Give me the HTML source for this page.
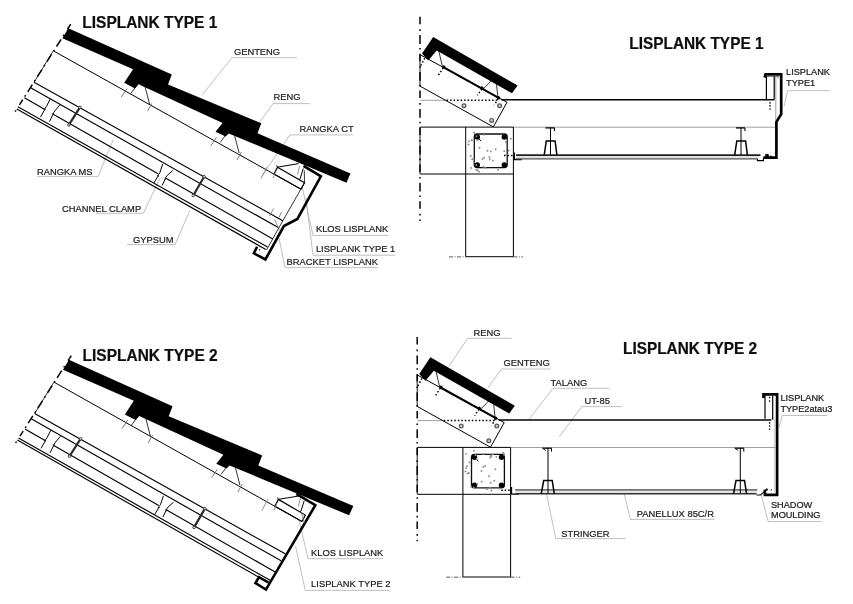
<!DOCTYPE html>
<html><head><meta charset="utf-8"><title>Lisplank detail</title>
<style>
html,body{margin:0;padding:0;background:#fff;}
svg{display:block;font-family:"Liberation Sans",sans-serif;}
</style></head><body>
<svg width="853" height="604" viewBox="0 0 853 604">
<defs><filter id="soft" x="0" y="0" width="100%" height="100%" filterUnits="userSpaceOnUse"><feGaussianBlur stdDeviation="0.33"/></filter></defs>
<rect width="853" height="604" fill="#fff"/>
<g filter="url(#soft)">
<polyline points="297.00,57.70 232.00,57.70 202.00,95.00" fill="none" stroke="#b0b0b0" stroke-width="0.8" />
<polyline points="310.00,103.60 273.00,103.60 259.50,122.50" fill="none" stroke="#b0b0b0" stroke-width="0.8" />
<polyline points="353.00,134.90 290.00,134.90 262.00,176.00" fill="none" stroke="#b0b0b0" stroke-width="0.8" />
<polyline points="37.00,176.60 98.00,176.60 113.00,140.00" fill="none" stroke="#b0b0b0" stroke-width="0.8" />
<polyline points="96.00,213.30 143.40,213.30 160.00,178.00" fill="none" stroke="#b0b0b0" stroke-width="0.8" />
<polyline points="127.00,244.60 175.00,244.60 190.00,210.00" fill="none" stroke="#b0b0b0" stroke-width="0.8" />
<polyline points="388.00,235.40 313.00,235.40 302.00,186.00" fill="none" stroke="#b0b0b0" stroke-width="0.8" />
<polyline points="395.00,255.20 313.00,255.20 306.00,198.00" fill="none" stroke="#b0b0b0" stroke-width="0.8" />
<polyline points="378.00,267.60 285.00,267.60 279.00,238.00" fill="none" stroke="#b0b0b0" stroke-width="0.8" />
<polyline points="383.00,558.70 308.00,558.70 299.00,520.00" fill="none" stroke="#b0b0b0" stroke-width="0.8" />
<polyline points="390.00,590.40 305.30,590.40 295.50,546.00" fill="none" stroke="#b0b0b0" stroke-width="0.8" />
<polyline points="511.60,338.30 467.70,338.30 448.90,366.40" fill="none" stroke="#b0b0b0" stroke-width="0.8" />
<polyline points="550.50,369.00 501.60,369.00 487.80,387.80" fill="none" stroke="#b0b0b0" stroke-width="0.8" />
<polyline points="609.50,388.30 553.00,388.30 529.20,419.10" fill="none" stroke="#b0b0b0" stroke-width="0.8" />
<polyline points="622.00,406.60 581.90,406.60 559.30,436.70" fill="none" stroke="#b0b0b0" stroke-width="0.8" />
<polyline points="714.00,519.40 630.40,519.40 623.80,492.00" fill="none" stroke="#b0b0b0" stroke-width="0.8" />
<polyline points="626.00,538.60 555.80,538.60 546.40,493.50" fill="none" stroke="#b0b0b0" stroke-width="0.8" />
<polyline points="821.90,521.60 768.20,521.60 761.40,495.60" fill="none" stroke="#b0b0b0" stroke-width="0.8" />
<polyline points="827.50,415.50 782.20,415.50 779.00,427.80" fill="none" stroke="#b0b0b0" stroke-width="0.8" />
<polyline points="829.70,90.70 787.50,90.70 784.00,106.40" fill="none" stroke="#b0b0b0" stroke-width="0.8" />
<polygon points="68.30,28.30 171.80,74.50 168.00,84.50 261.30,123.30 257.50,133.30 350.40,173.50 346.50,182.80 228.80,133.40 225.60,136.40 215.50,131.80 222.60,122.90 138.50,84.30 135.00,88.50 124.20,82.80 133.10,69.20 62.40,38.30" fill="#000" stroke="none" stroke-width="1" />
<line x1="70.70" y1="24.20" x2="13.40" y2="114.40" stroke="#000" stroke-width="1.5" stroke-dasharray="6 6.5 1.6 3.8 8.5 4 1.6 3.8 8.5 4 1.6 3.8 8.5 4 1.6 3.8 8.5 4 1.6 3.8"/>
<line x1="53.30" y1="50.80" x2="34.05" y2="82.30" stroke="#000" stroke-width="0.8" />
<line x1="53.30" y1="50.80" x2="301.00" y2="189.20" stroke="#000" stroke-width="1.0" />
<line x1="34.05" y1="82.30" x2="282.80" y2="220.80" stroke="#000" stroke-width="1.15" />
<line x1="30.20" y1="87.40" x2="278.70" y2="227.80" stroke="#000" stroke-width="1.15" />
<line x1="17.90" y1="106.80" x2="267.50" y2="247.10" stroke="#000" stroke-width="1.15" />
<line x1="16.80" y1="108.90" x2="265.80" y2="249.50" stroke="#000" stroke-width="1.15" />
<line x1="24.40" y1="97.80" x2="45.30" y2="109.67" stroke="#000" stroke-width="1.15" />
<line x1="53.20" y1="114.16" x2="158.00" y2="173.69" stroke="#000" stroke-width="1.15" />
<line x1="165.90" y1="178.18" x2="272.80" y2="238.90" stroke="#000" stroke-width="1.15" />
<line x1="138.30" y1="83.30" x2="130.80" y2="93.50" stroke="#000" stroke-width="0.8" />
<line x1="144.90" y1="86.10" x2="149.60" y2="104.20" stroke="#000" stroke-width="0.8" />
<line x1="121.30" y1="97.00" x2="127.00" y2="88.60" stroke="#777" stroke-width="1" />
<line x1="147.50" y1="111.20" x2="151.80" y2="103.40" stroke="#777" stroke-width="1" />
<line x1="227.80" y1="132.10" x2="220.30" y2="142.30" stroke="#000" stroke-width="0.8" />
<line x1="234.40" y1="134.90" x2="239.10" y2="153.00" stroke="#000" stroke-width="0.8" />
<line x1="210.80" y1="145.80" x2="216.50" y2="137.40" stroke="#777" stroke-width="1" />
<line x1="237.00" y1="160.00" x2="241.30" y2="152.20" stroke="#777" stroke-width="1" />
<polyline points="50.20,99.00 46.60,106.10 45.20,108.10 44.60,109.70 40.50,117.10" fill="none" stroke="#000" stroke-width="1.0" />
<circle cx="44.70" cy="109.30" r="0.9" fill="#222" stroke="none" stroke-width="1"/>
<polyline points="59.90,104.90 55.00,110.70 53.60,112.70 53.00,114.30 49.50,121.60" fill="none" stroke="#000" stroke-width="1.0" />
<circle cx="53.10" cy="113.90" r="0.9" fill="#222" stroke="none" stroke-width="1"/>
<polyline points="162.70,164.10 159.80,172.80 158.40,174.80 157.80,176.40 153.90,182.90" fill="none" stroke="#000" stroke-width="1.0" />
<circle cx="157.90" cy="176.00" r="0.9" fill="#222" stroke="none" stroke-width="1"/>
<polyline points="172.80,170.40 167.30,175.30 165.90,177.30 165.30,178.90 162.20,185.40" fill="none" stroke="#000" stroke-width="1.0" />
<circle cx="165.40" cy="178.50" r="0.9" fill="#222" stroke="none" stroke-width="1"/>
<line x1="79.90" y1="107.40" x2="68.90" y2="124.90" stroke="#2a2a2a" stroke-width="2.2" />
<circle cx="79.90" cy="107.40" r="1.3" fill="#ddd" stroke="#222" stroke-width="0.8"/>
<circle cx="68.90" cy="124.90" r="1.3" fill="#ddd" stroke="#222" stroke-width="0.8"/>
<line x1="204.10" y1="176.70" x2="193.30" y2="195.50" stroke="#2a2a2a" stroke-width="2.2" />
<circle cx="204.10" cy="176.70" r="1.3" fill="#ddd" stroke="#222" stroke-width="0.8"/>
<circle cx="193.30" cy="195.50" r="1.3" fill="#ddd" stroke="#222" stroke-width="0.8"/>
<polygon points="277.50,167.20 304.50,182.80 301.00,189.20 274.00,174.00" fill="none" stroke="#000" stroke-width="1.2" />
<line x1="277.50" y1="167.20" x2="298.60" y2="163.60" stroke="#000" stroke-width="1.0" />
<line x1="303.30" y1="168.50" x2="299.80" y2="179.50" stroke="#000" stroke-width="1.0" />
<line x1="277.50" y1="167.20" x2="276.60" y2="165.40" stroke="#000" stroke-width="1.0" />
<line x1="299.50" y1="166.00" x2="297.50" y2="174.50" stroke="#777" stroke-width="0.8" />
<line x1="261.00" y1="178.50" x2="267.00" y2="167.00" stroke="#777" stroke-width="0.8" />
<line x1="273.00" y1="178.00" x2="276.00" y2="171.00" stroke="#777" stroke-width="0.8" />
<polyline points="303.50,165.80 320.90,176.30 297.40,219.00 283.90,226.00 265.40,259.50 253.90,253.30 257.10,246.70" fill="none" stroke="#000" stroke-width="2.6" stroke-linejoin="miter"/>
<polyline points="304.30,170.50 304.50,182.80 282.80,220.80 266.50,250.00" fill="none" stroke="#000" stroke-width="0.8" />
<circle cx="259.60" cy="249.80" r="0.7" fill="#000" stroke="none" stroke-width="1"/>
<line x1="269.50" y1="216.00" x2="273.50" y2="208.50" stroke="#777" stroke-width="0.9" />
<line x1="279.00" y1="217.50" x2="281.50" y2="212.00" stroke="#777" stroke-width="0.9" />
<line x1="274.50" y1="219.50" x2="279.50" y2="230.00" stroke="#777" stroke-width="0.8" />
<polygon points="68.92,359.66 172.54,406.27 168.74,416.26 262.15,455.43 258.34,465.41 353.36,506.09 349.05,515.28 229.61,465.40 226.41,468.39 216.29,463.75 223.40,454.87 139.20,415.94 135.70,420.12 124.88,414.38 133.79,400.82 63.01,369.63" fill="#000" stroke="none" stroke-width="1" />
<line x1="71.32" y1="355.57" x2="13.95" y2="445.54" stroke="#000" stroke-width="1.5" stroke-dasharray="6 6.5 1.6 3.8 8.5 4 1.6 3.8 8.5 4 1.6 3.8 8.5 4 1.6 3.8 8.5 4 1.6 3.8"/>
<line x1="53.90" y1="382.10" x2="34.63" y2="413.52" stroke="#000" stroke-width="0.8" />
<line x1="53.90" y1="382.10" x2="301.90" y2="521.49" stroke="#000" stroke-width="1.0" />
<line x1="34.63" y1="413.52" x2="285.60" y2="554.10" stroke="#000" stroke-width="1.15" />
<line x1="30.77" y1="418.60" x2="281.49" y2="561.08" stroke="#000" stroke-width="1.15" />
<line x1="18.46" y1="437.96" x2="270.10" y2="580.24" stroke="#000" stroke-width="1.15" />
<line x1="17.36" y1="440.05" x2="268.40" y2="582.63" stroke="#000" stroke-width="1.15" />
<line x1="24.96" y1="428.98" x2="45.89" y2="440.94" stroke="#000" stroke-width="1.15" />
<line x1="53.80" y1="445.45" x2="158.72" y2="505.40" stroke="#000" stroke-width="1.15" />
<line x1="166.63" y1="509.92" x2="275.58" y2="572.16" stroke="#000" stroke-width="1.15" />
<line x1="139.00" y1="414.94" x2="131.49" y2="425.11" stroke="#000" stroke-width="0.8" />
<line x1="145.61" y1="417.76" x2="150.31" y2="435.88" stroke="#000" stroke-width="0.8" />
<line x1="121.98" y1="428.57" x2="127.69" y2="420.19" stroke="#777" stroke-width="1" />
<line x1="148.21" y1="442.87" x2="152.52" y2="435.09" stroke="#777" stroke-width="1" />
<line x1="228.61" y1="464.10" x2="221.10" y2="474.27" stroke="#000" stroke-width="0.8" />
<line x1="235.22" y1="466.92" x2="239.92" y2="485.04" stroke="#000" stroke-width="0.8" />
<line x1="211.59" y1="477.73" x2="217.29" y2="469.35" stroke="#777" stroke-width="1" />
<line x1="237.82" y1="492.03" x2="242.12" y2="484.25" stroke="#777" stroke-width="1" />
<polyline points="50.80,430.28 47.19,437.37 45.79,439.36 45.19,440.96 41.08,448.35" fill="none" stroke="#000" stroke-width="1.0" />
<circle cx="45.29" cy="440.56" r="0.9" fill="#222" stroke="none" stroke-width="1"/>
<polyline points="60.51,436.22 55.60,442.00 54.20,444.00 53.60,445.60 50.09,452.88" fill="none" stroke="#000" stroke-width="1.0" />
<circle cx="53.70" cy="445.20" r="0.9" fill="#222" stroke="none" stroke-width="1"/>
<polyline points="163.43,495.83 160.53,504.52 159.13,506.52 158.52,508.12 154.62,514.60" fill="none" stroke="#000" stroke-width="1.0" />
<circle cx="158.62" cy="507.72" r="0.9" fill="#222" stroke="none" stroke-width="1"/>
<polyline points="173.54,502.18 168.04,507.05 166.63,509.05 166.03,510.65 162.93,517.13" fill="none" stroke="#000" stroke-width="1.0" />
<circle cx="166.13" cy="510.25" r="0.9" fill="#222" stroke="none" stroke-width="1"/>
<line x1="80.53" y1="438.80" x2="69.52" y2="456.26" stroke="#2a2a2a" stroke-width="2.2" />
<circle cx="80.53" cy="438.80" r="1.3" fill="#ddd" stroke="#222" stroke-width="0.8"/>
<circle cx="69.52" cy="456.26" r="1.3" fill="#ddd" stroke="#222" stroke-width="0.8"/>
<line x1="204.88" y1="508.60" x2="194.07" y2="527.36" stroke="#2a2a2a" stroke-width="2.2" />
<circle cx="204.88" cy="508.60" r="1.3" fill="#ddd" stroke="#222" stroke-width="0.8"/>
<circle cx="194.07" cy="527.36" r="1.3" fill="#ddd" stroke="#222" stroke-width="0.8"/>
<polygon points="278.37,499.39 305.40,515.10 301.90,521.49 274.86,506.18" fill="none" stroke="#000" stroke-width="1.2" />
<line x1="278.37" y1="499.39" x2="299.49" y2="495.88" stroke="#000" stroke-width="1.0" />
<line x1="304.20" y1="500.80" x2="300.69" y2="511.78" stroke="#000" stroke-width="1.0" />
<line x1="278.37" y1="499.39" x2="277.47" y2="497.59" stroke="#000" stroke-width="1.0" />
<line x1="300.39" y1="498.28" x2="298.39" y2="506.77" stroke="#777" stroke-width="0.8" />
<line x1="261.85" y1="510.63" x2="267.86" y2="499.15" stroke="#777" stroke-width="0.8" />
<line x1="273.86" y1="510.18" x2="276.87" y2="503.19" stroke="#777" stroke-width="0.8" />
<polyline points="296.29,493.87 315.31,505.24 265.95,589.54 255.44,583.10 258.94,577.22 268.36,582.35" fill="none" stroke="#000" stroke-width="2.6" stroke-linejoin="miter"/>
<line x1="301.40" y1="512.29" x2="304.40" y2="523.30" stroke="#777" stroke-width="0.8" />
<line x1="420.00" y1="16.80" x2="420.00" y2="221.00" stroke="#000" stroke-width="1.5" stroke-dasharray="7.5 5 1.6 4.2 8.8 4 1.6 4.2"/>
<line x1="420.00" y1="54.50" x2="420.00" y2="86.20" stroke="#000" stroke-width="0.9" />
<line x1="420.00" y1="127.10" x2="420.00" y2="174.00" stroke="#000" stroke-width="0.9" />
<line x1="420.20" y1="100.30" x2="446.60" y2="100.30" stroke="#888" stroke-width="0.8" />
<line x1="446.60" y1="100.30" x2="497.50" y2="100.30" stroke="#000" stroke-width="1.5" stroke-dasharray="1.5 2.0"/>
<polyline points="419.80,54.50 507.00,102.30 493.30,126.90 420.20,86.20" fill="none" stroke="#000" stroke-width="1" />
<line x1="443.80" y1="67.40" x2="500.00" y2="98.60" stroke="#000" stroke-width="2.2" />
<polygon points="433.20,37.00 517.60,85.50 512.00,93.30 436.70,50.40 428.30,60.50 422.00,53.60" fill="#000" stroke="none" stroke-width="1" />
<line x1="438.80" y1="51.00" x2="442.40" y2="66.50" stroke="#000" stroke-width="0.8" />
<line x1="491.60" y1="80.60" x2="483.20" y2="89.00" stroke="#000" stroke-width="0.8" />
<line x1="496.50" y1="84.10" x2="497.90" y2="97.50" stroke="#000" stroke-width="0.8" />
<line x1="424.80" y1="58.10" x2="420.60" y2="65.80" stroke="#000" stroke-width="1.5" stroke-dasharray="1.5 2.0"/>
<line x1="443.10" y1="67.90" x2="438.10" y2="75.60" stroke="#000" stroke-width="1.5" stroke-dasharray="1.5 2.0"/>
<line x1="481.80" y1="89.00" x2="477.50" y2="95.30" stroke="#000" stroke-width="1.5" stroke-dasharray="1.5 2.0"/>
<line x1="498.00" y1="98.90" x2="494.40" y2="105.20" stroke="#000" stroke-width="1.5" stroke-dasharray="1.5 2.0"/>
<circle cx="443.80" cy="66.80" r="1.6" fill="#000" stroke="none" stroke-width="1"/>
<circle cx="482.00" cy="87.90" r="1.6" fill="#000" stroke="none" stroke-width="1"/>
<circle cx="498.40" cy="97.70" r="1.6" fill="#000" stroke="none" stroke-width="1"/>
<circle cx="464.00" cy="105.80" r="1.9" fill="#c4c4c4" stroke="#555" stroke-width="1.2"/>
<circle cx="499.60" cy="105.80" r="1.9" fill="#c4c4c4" stroke="#555" stroke-width="1.2"/>
<circle cx="491.60" cy="120.40" r="1.9" fill="#c4c4c4" stroke="#555" stroke-width="1.2"/>
<line x1="501.40" y1="99.70" x2="774.20" y2="99.70" stroke="#000" stroke-width="1.45" />
<line x1="513.40" y1="127.20" x2="775.20" y2="127.20" stroke="#888" stroke-width="0.8" />
<polyline points="420.20,127.10 513.40,127.10 513.40,256.70 465.70,256.70 465.70,127.10" fill="none" stroke="#000" stroke-width="1" />
<polyline points="420.20,174.00 513.40,174.00" fill="none" stroke="#000" stroke-width="1" />
<line x1="449.00" y1="256.90" x2="465.70" y2="256.90" stroke="#444" stroke-width="0.9" stroke-dasharray="4 1.5 1 1.5"/>
<line x1="513.40" y1="256.90" x2="523.00" y2="256.90" stroke="#444" stroke-width="0.9" stroke-dasharray="4 1.5 1 1.5"/>
<rect x="474.30" y="134.00" width="32.90" height="33.60" rx="2.8" fill="none" stroke="#111" stroke-width="1.3"/>
<circle cx="477.30" cy="137.00" r="2.7" fill="#000" stroke="none" stroke-width="1"/>
<circle cx="504.30" cy="137.00" r="2.7" fill="#000" stroke="none" stroke-width="1"/>
<circle cx="477.30" cy="165.00" r="2.7" fill="#000" stroke="none" stroke-width="1"/>
<circle cx="504.30" cy="165.00" r="2.7" fill="#000" stroke="none" stroke-width="1"/>
<line x1="477.30" y1="137.00" x2="481.00" y2="141.00" stroke="#000" stroke-width="1" />
<circle cx="477.75" cy="170.42" r="0.95" fill="#8c8c8c" stroke="none" stroke-width="1"/>
<circle cx="473.43" cy="159.60" r="0.95" fill="#8c8c8c" stroke="none" stroke-width="1"/>
<circle cx="471.66" cy="140.39" r="0.95" fill="#8c8c8c" stroke="none" stroke-width="1"/>
<circle cx="510.96" cy="138.79" r="0.95" fill="#8c8c8c" stroke="none" stroke-width="1"/>
<circle cx="495.60" cy="149.28" r="0.95" fill="#8c8c8c" stroke="none" stroke-width="1"/>
<circle cx="487.48" cy="150.79" r="0.95" fill="#8c8c8c" stroke="none" stroke-width="1"/>
<circle cx="476.27" cy="164.88" r="0.95" fill="#8c8c8c" stroke="none" stroke-width="1"/>
<circle cx="471.85" cy="139.84" r="0.95" fill="#8c8c8c" stroke="none" stroke-width="1"/>
<circle cx="468.86" cy="141.20" r="0.95" fill="#8c8c8c" stroke="none" stroke-width="1"/>
<circle cx="485.53" cy="167.89" r="0.95" fill="#8c8c8c" stroke="none" stroke-width="1"/>
<circle cx="484.30" cy="134.78" r="0.95" fill="#8c8c8c" stroke="none" stroke-width="1"/>
<circle cx="479.11" cy="171.65" r="0.95" fill="#8c8c8c" stroke="none" stroke-width="1"/>
<circle cx="470.71" cy="156.05" r="0.95" fill="#8c8c8c" stroke="none" stroke-width="1"/>
<circle cx="484.22" cy="157.76" r="0.95" fill="#8c8c8c" stroke="none" stroke-width="1"/>
<circle cx="482.55" cy="159.03" r="0.95" fill="#8c8c8c" stroke="none" stroke-width="1"/>
<circle cx="489.40" cy="157.29" r="0.95" fill="#8c8c8c" stroke="none" stroke-width="1"/>
<circle cx="506.76" cy="154.42" r="0.95" fill="#8c8c8c" stroke="none" stroke-width="1"/>
<circle cx="474.11" cy="132.70" r="0.95" fill="#8c8c8c" stroke="none" stroke-width="1"/>
<circle cx="508.68" cy="150.52" r="0.95" fill="#8c8c8c" stroke="none" stroke-width="1"/>
<circle cx="476.34" cy="169.73" r="0.95" fill="#8c8c8c" stroke="none" stroke-width="1"/>
<circle cx="492.90" cy="160.62" r="0.95" fill="#8c8c8c" stroke="none" stroke-width="1"/>
<circle cx="505.88" cy="142.00" r="0.95" fill="#8c8c8c" stroke="none" stroke-width="1"/>
<circle cx="483.34" cy="166.88" r="0.95" fill="#8c8c8c" stroke="none" stroke-width="1"/>
<circle cx="473.80" cy="162.10" r="0.95" fill="#8c8c8c" stroke="none" stroke-width="1"/>
<circle cx="472.20" cy="158.99" r="0.95" fill="#8c8c8c" stroke="none" stroke-width="1"/>
<circle cx="498.19" cy="169.90" r="0.95" fill="#8c8c8c" stroke="none" stroke-width="1"/>
<circle cx="504.27" cy="151.15" r="0.95" fill="#8c8c8c" stroke="none" stroke-width="1"/>
<circle cx="476.50" cy="136.31" r="0.95" fill="#8c8c8c" stroke="none" stroke-width="1"/>
<circle cx="490.73" cy="151.41" r="0.95" fill="#8c8c8c" stroke="none" stroke-width="1"/>
<circle cx="471.07" cy="167.94" r="0.95" fill="#8c8c8c" stroke="none" stroke-width="1"/>
<circle cx="489.82" cy="159.45" r="0.95" fill="#8c8c8c" stroke="none" stroke-width="1"/>
<circle cx="477.46" cy="140.24" r="0.95" fill="#8c8c8c" stroke="none" stroke-width="1"/>
<circle cx="468.51" cy="144.42" r="0.95" fill="#8c8c8c" stroke="none" stroke-width="1"/>
<circle cx="479.47" cy="147.78" r="0.95" fill="#8c8c8c" stroke="none" stroke-width="1"/>
<line x1="504.00" y1="155.60" x2="512.50" y2="155.60" stroke="#000" stroke-width="1.5" stroke-dasharray="1.5 2.0"/>
<polyline points="514.30,152.50 514.30,159.50 521.80,159.50" fill="none" stroke="#000" stroke-width="1.3" />
<polygon points="516.00,155.20 760.50,155.20 757.40,158.80 516.00,158.80" fill="#e2e2e2" stroke="none" stroke-width="1" />
<line x1="516.00" y1="155.20" x2="760.50" y2="155.20" stroke="#222" stroke-width="1.7" />
<line x1="516.00" y1="158.80" x2="757.40" y2="158.80" stroke="#555" stroke-width="1.2" />
<line x1="545.50" y1="127.90" x2="554.50" y2="127.90" stroke="#000" stroke-width="1.3" />
<line x1="554.50" y1="127.90" x2="554.50" y2="131.00" stroke="#000" stroke-width="1.1" />
<line x1="550.50" y1="127.90" x2="550.50" y2="155.00" stroke="#000" stroke-width="1.0" />
<polyline points="544.20,155.10 546.30,140.90 555.10,140.90 556.90,155.10" fill="none" stroke="#000" stroke-width="1.5" />
<line x1="736.00" y1="127.90" x2="745.00" y2="127.90" stroke="#000" stroke-width="1.3" />
<line x1="745.00" y1="127.90" x2="745.00" y2="131.00" stroke="#000" stroke-width="1.1" />
<line x1="741.00" y1="127.90" x2="741.00" y2="155.00" stroke="#000" stroke-width="1.0" />
<polyline points="734.70,155.10 736.80,140.90 745.60,140.90 747.40,155.10" fill="none" stroke="#000" stroke-width="1.5" />
<polyline points="764.60,77.50 765.60,74.30 781.20,74.30 781.20,114.20 776.40,121.90 776.40,157.70 763.40,157.70" fill="none" stroke="#000" stroke-width="2.7" stroke-linejoin="miter"/>
<polyline points="766.40,76.20 766.40,98.90" fill="none" stroke="#000" stroke-width="1.2" />
<polyline points="774.20,76.20 774.20,99.70" fill="none" stroke="#000" stroke-width="1.2" />
<line x1="767.00" y1="76.40" x2="779.00" y2="76.40" stroke="#333" stroke-width="0.7" />
<line x1="775.80" y1="75.50" x2="775.80" y2="120.50" stroke="#777" stroke-width="0.7" />
<circle cx="770.00" cy="102.90" r="0.8" fill="#000" stroke="none" stroke-width="1"/>
<circle cx="770.00" cy="105.90" r="0.8" fill="#000" stroke="none" stroke-width="1"/>
<circle cx="770.00" cy="109.00" r="0.8" fill="#000" stroke="none" stroke-width="1"/>
<circle cx="778.00" cy="77.80" r="0.5" fill="#000" stroke="none" stroke-width="1"/>
<polyline points="763.40,157.70 763.40,160.60 757.40,160.60 757.40,158.80" fill="none" stroke="#000" stroke-width="1.1" />
<ellipse cx="767.00" cy="155.60" rx="2" ry="1.8" fill="#000"/>
<circle cx="771.00" cy="156.30" r="0.9" fill="#000" stroke="none" stroke-width="1"/>
<line x1="417.20" y1="337.10" x2="417.20" y2="541.30" stroke="#000" stroke-width="1.5" stroke-dasharray="7.5 5 1.6 4.2 8.8 4 1.6 4.2"/>
<line x1="417.20" y1="374.80" x2="417.20" y2="406.50" stroke="#000" stroke-width="0.9" />
<line x1="417.20" y1="447.40" x2="417.20" y2="494.30" stroke="#000" stroke-width="0.9" />
<line x1="417.40" y1="420.60" x2="443.80" y2="420.60" stroke="#888" stroke-width="0.8" />
<line x1="443.80" y1="420.60" x2="494.70" y2="420.60" stroke="#000" stroke-width="1.5" stroke-dasharray="1.5 2.0"/>
<polyline points="417.00,374.80 504.20,422.60 490.50,447.20 417.40,406.50" fill="none" stroke="#000" stroke-width="1" />
<line x1="441.00" y1="387.70" x2="497.20" y2="418.90" stroke="#000" stroke-width="2.2" />
<polygon points="430.40,357.30 514.80,405.80 509.20,413.60 433.90,370.70 425.50,380.80 419.20,373.90" fill="#000" stroke="none" stroke-width="1" />
<line x1="436.00" y1="371.30" x2="439.60" y2="386.80" stroke="#000" stroke-width="0.8" />
<line x1="488.80" y1="400.90" x2="480.40" y2="409.30" stroke="#000" stroke-width="0.8" />
<line x1="493.70" y1="404.40" x2="495.10" y2="417.80" stroke="#000" stroke-width="0.8" />
<line x1="422.00" y1="378.40" x2="417.80" y2="386.10" stroke="#000" stroke-width="1.5" stroke-dasharray="1.5 2.0"/>
<line x1="440.30" y1="388.20" x2="435.30" y2="395.90" stroke="#000" stroke-width="1.5" stroke-dasharray="1.5 2.0"/>
<line x1="479.00" y1="409.30" x2="474.70" y2="415.60" stroke="#000" stroke-width="1.5" stroke-dasharray="1.5 2.0"/>
<line x1="495.20" y1="419.20" x2="491.60" y2="425.50" stroke="#000" stroke-width="1.5" stroke-dasharray="1.5 2.0"/>
<circle cx="441.00" cy="387.10" r="1.6" fill="#000" stroke="none" stroke-width="1"/>
<circle cx="479.20" cy="408.20" r="1.6" fill="#000" stroke="none" stroke-width="1"/>
<circle cx="495.60" cy="418.00" r="1.6" fill="#000" stroke="none" stroke-width="1"/>
<circle cx="461.20" cy="426.10" r="1.9" fill="#c4c4c4" stroke="#555" stroke-width="1.2"/>
<circle cx="496.80" cy="426.10" r="1.9" fill="#c4c4c4" stroke="#555" stroke-width="1.2"/>
<circle cx="488.80" cy="440.70" r="1.9" fill="#c4c4c4" stroke="#555" stroke-width="1.2"/>
<line x1="498.60" y1="420.00" x2="771.40" y2="420.00" stroke="#000" stroke-width="1.45" />
<line x1="510.60" y1="447.50" x2="775.40" y2="447.50" stroke="#888" stroke-width="0.8" />
<polyline points="417.40,447.40 510.60,447.40 510.60,577.00 462.90,577.00 462.90,447.40" fill="none" stroke="#000" stroke-width="1" />
<polyline points="417.40,494.30 510.60,494.30" fill="none" stroke="#000" stroke-width="1" />
<line x1="446.20" y1="577.20" x2="462.90" y2="577.20" stroke="#444" stroke-width="0.9" stroke-dasharray="4 1.5 1 1.5"/>
<line x1="510.60" y1="577.20" x2="520.20" y2="577.20" stroke="#444" stroke-width="0.9" stroke-dasharray="4 1.5 1 1.5"/>
<rect x="471.50" y="454.30" width="32.90" height="33.60" rx="2.8" fill="none" stroke="#111" stroke-width="1.3"/>
<circle cx="474.50" cy="457.30" r="2.7" fill="#000" stroke="none" stroke-width="1"/>
<circle cx="501.50" cy="457.30" r="2.7" fill="#000" stroke="none" stroke-width="1"/>
<circle cx="474.50" cy="485.30" r="2.7" fill="#000" stroke="none" stroke-width="1"/>
<circle cx="501.50" cy="485.30" r="2.7" fill="#000" stroke="none" stroke-width="1"/>
<line x1="474.50" y1="457.30" x2="478.20" y2="461.30" stroke="#000" stroke-width="1" />
<circle cx="485.11" cy="465.98" r="0.95" fill="#8c8c8c" stroke="none" stroke-width="1"/>
<circle cx="471.16" cy="486.70" r="0.95" fill="#8c8c8c" stroke="none" stroke-width="1"/>
<circle cx="465.48" cy="471.42" r="0.95" fill="#8c8c8c" stroke="none" stroke-width="1"/>
<circle cx="503.83" cy="453.69" r="0.95" fill="#8c8c8c" stroke="none" stroke-width="1"/>
<circle cx="489.03" cy="476.20" r="0.95" fill="#8c8c8c" stroke="none" stroke-width="1"/>
<circle cx="466.96" cy="466.22" r="0.95" fill="#8c8c8c" stroke="none" stroke-width="1"/>
<circle cx="495.45" cy="469.28" r="0.95" fill="#8c8c8c" stroke="none" stroke-width="1"/>
<circle cx="496.38" cy="456.90" r="0.95" fill="#8c8c8c" stroke="none" stroke-width="1"/>
<circle cx="475.43" cy="454.96" r="0.95" fill="#8c8c8c" stroke="none" stroke-width="1"/>
<circle cx="486.97" cy="489.10" r="0.95" fill="#8c8c8c" stroke="none" stroke-width="1"/>
<circle cx="490.59" cy="482.82" r="0.95" fill="#8c8c8c" stroke="none" stroke-width="1"/>
<circle cx="481.70" cy="481.64" r="0.95" fill="#8c8c8c" stroke="none" stroke-width="1"/>
<circle cx="469.57" cy="462.53" r="0.95" fill="#8c8c8c" stroke="none" stroke-width="1"/>
<circle cx="494.19" cy="480.78" r="0.95" fill="#8c8c8c" stroke="none" stroke-width="1"/>
<circle cx="483.34" cy="453.98" r="0.95" fill="#8c8c8c" stroke="none" stroke-width="1"/>
<circle cx="476.67" cy="459.12" r="0.95" fill="#8c8c8c" stroke="none" stroke-width="1"/>
<circle cx="477.29" cy="484.30" r="0.95" fill="#8c8c8c" stroke="none" stroke-width="1"/>
<circle cx="473.78" cy="487.53" r="0.95" fill="#8c8c8c" stroke="none" stroke-width="1"/>
<circle cx="503.01" cy="452.60" r="0.95" fill="#8c8c8c" stroke="none" stroke-width="1"/>
<circle cx="481.49" cy="470.95" r="0.95" fill="#8c8c8c" stroke="none" stroke-width="1"/>
<circle cx="466.21" cy="468.14" r="0.95" fill="#8c8c8c" stroke="none" stroke-width="1"/>
<circle cx="504.18" cy="455.01" r="0.95" fill="#8c8c8c" stroke="none" stroke-width="1"/>
<circle cx="490.86" cy="455.39" r="0.95" fill="#8c8c8c" stroke="none" stroke-width="1"/>
<circle cx="490.08" cy="487.90" r="0.95" fill="#8c8c8c" stroke="none" stroke-width="1"/>
<circle cx="473.93" cy="450.65" r="0.95" fill="#8c8c8c" stroke="none" stroke-width="1"/>
<circle cx="468.79" cy="472.97" r="0.95" fill="#8c8c8c" stroke="none" stroke-width="1"/>
<circle cx="465.95" cy="453.86" r="0.95" fill="#8c8c8c" stroke="none" stroke-width="1"/>
<circle cx="486.56" cy="488.98" r="0.95" fill="#8c8c8c" stroke="none" stroke-width="1"/>
<circle cx="483.26" cy="467.02" r="0.95" fill="#8c8c8c" stroke="none" stroke-width="1"/>
<circle cx="492.66" cy="454.22" r="0.95" fill="#8c8c8c" stroke="none" stroke-width="1"/>
<circle cx="490.13" cy="457.55" r="0.95" fill="#8c8c8c" stroke="none" stroke-width="1"/>
<circle cx="491.38" cy="490.55" r="0.95" fill="#8c8c8c" stroke="none" stroke-width="1"/>
<circle cx="467.53" cy="473.61" r="0.95" fill="#8c8c8c" stroke="none" stroke-width="1"/>
<circle cx="491.27" cy="456.57" r="0.95" fill="#8c8c8c" stroke="none" stroke-width="1"/>
<line x1="501.20" y1="490.20" x2="509.70" y2="490.20" stroke="#000" stroke-width="1.5" stroke-dasharray="1.5 2.0"/>
<polyline points="511.50,487.10 511.50,494.10 519.00,494.10" fill="none" stroke="#000" stroke-width="1.3" />
<polygon points="515.20,489.90 757.20,489.90 756.50,493.80 515.20,493.80" fill="#e2e2e2" stroke="none" stroke-width="1" />
<line x1="515.20" y1="489.90" x2="757.20" y2="489.90" stroke="#444" stroke-width="1.1" />
<line x1="515.20" y1="493.80" x2="756.50" y2="493.80" stroke="#333" stroke-width="1.6" />
<line x1="542.50" y1="448.20" x2="551.50" y2="448.20" stroke="#000" stroke-width="1.2" />
<line x1="551.50" y1="448.20" x2="551.50" y2="451.60" stroke="#000" stroke-width="1.0" />
<line x1="542.50" y1="448.20" x2="545.80" y2="450.50" stroke="#000" stroke-width="0.9" />
<line x1="548.00" y1="448.20" x2="548.00" y2="493.30" stroke="#000" stroke-width="1.0" />
<polyline points="541.20,493.90 543.70,480.50 552.20,480.50 554.30,493.90" fill="none" stroke="#000" stroke-width="1.5" />
<line x1="734.80" y1="448.20" x2="743.80" y2="448.20" stroke="#000" stroke-width="1.2" />
<line x1="743.80" y1="448.20" x2="743.80" y2="451.60" stroke="#000" stroke-width="1.0" />
<line x1="734.80" y1="448.20" x2="738.10" y2="450.50" stroke="#000" stroke-width="0.9" />
<line x1="740.30" y1="448.20" x2="740.30" y2="493.30" stroke="#000" stroke-width="1.0" />
<polyline points="733.50,493.90 736.00,480.50 744.50,480.50 746.60,493.90" fill="none" stroke="#000" stroke-width="1.5" />
<polyline points="763.50,397.90 763.50,394.30 777.10,394.30 777.10,494.90 764.90,494.90 764.90,489.80" fill="none" stroke="#000" stroke-width="2.7" stroke-linejoin="miter"/>
<polyline points="765.00,395.50 765.00,418.70" fill="none" stroke="#000" stroke-width="1.2" />
<polyline points="772.70,395.50 772.70,419.80" fill="none" stroke="#000" stroke-width="1.2" />
<line x1="774.80" y1="419.30" x2="774.80" y2="492.30" stroke="#999" stroke-width="0.6" />
<circle cx="769.60" cy="422.90" r="0.8" fill="#000" stroke="none" stroke-width="1"/>
<circle cx="769.60" cy="426.00" r="0.8" fill="#000" stroke="none" stroke-width="1"/>
<circle cx="769.60" cy="429.20" r="0.8" fill="#000" stroke="none" stroke-width="1"/>
<circle cx="769.60" cy="397.60" r="0.8" fill="#000" stroke="none" stroke-width="1"/>
<circle cx="769.60" cy="401.10" r="0.8" fill="#000" stroke="none" stroke-width="1"/>
<polyline points="764.90,491.30 762.80,492.80 760.70,495.00 756.50,495.00" fill="none" stroke="#000" stroke-width="1.1" />
<circle cx="771.30" cy="489.90" r="0.6" fill="#000" stroke="none" stroke-width="1"/>
<circle cx="766.70" cy="489.60" r="1.2" fill="#000" stroke="none" stroke-width="1"/>
<text transform="translate(82.30,27.80) scale(0.968,1)" font-size="16.0" font-weight="700" fill="#111" stroke="#111" stroke-width="0.22">LISPLANK TYPE 1</text>
<text transform="translate(82.60,361.30) scale(0.968,1)" font-size="16.0" font-weight="700" fill="#111" stroke="#111" stroke-width="0.22">LISPLANK TYPE 2</text>
<text transform="translate(629.30,48.80) scale(0.962,1)" font-size="16.0" font-weight="700" fill="#111" stroke="#111" stroke-width="0.22">LISPLANK TYPE 1</text>
<text transform="translate(623.00,354.00) scale(0.962,1)" font-size="16.0" font-weight="700" fill="#111" stroke="#111" stroke-width="0.22">LISPLANK TYPE 2</text>
<text transform="translate(233.90,54.70) scale(0.945,1)" font-size="9.9" fill="#1c1c1c" stroke="#1c1c1c" stroke-width="0.22">GENTENG</text>
<text transform="translate(273.50,100.40) scale(0.945,1)" font-size="9.9" fill="#1c1c1c" stroke="#1c1c1c" stroke-width="0.22">RENG</text>
<text transform="translate(299.60,131.70) scale(0.945,1)" font-size="9.9" fill="#1c1c1c" stroke="#1c1c1c" stroke-width="0.22">RANGKA CT</text>
<text transform="translate(37.00,175.30) scale(0.945,1)" font-size="9.9" fill="#1c1c1c" stroke="#1c1c1c" stroke-width="0.22">RANGKA MS</text>
<text transform="translate(62.00,211.90) scale(0.945,1)" font-size="9.9" fill="#1c1c1c" stroke="#1c1c1c" stroke-width="0.22">CHANNEL CLAMP</text>
<text transform="translate(132.90,243.00) scale(0.945,1)" font-size="9.9" fill="#1c1c1c" stroke="#1c1c1c" stroke-width="0.22">GYPSUM</text>
<text transform="translate(315.90,232.40) scale(0.945,1)" font-size="9.9" fill="#1c1c1c" stroke="#1c1c1c" stroke-width="0.22">KLOS LISPLANK</text>
<text transform="translate(315.90,252.40) scale(0.945,1)" font-size="9.9" fill="#1c1c1c" stroke="#1c1c1c" stroke-width="0.22">LISPLANK TYPE 1</text>
<text transform="translate(286.60,264.70) scale(0.945,1)" font-size="9.9" fill="#1c1c1c" stroke="#1c1c1c" stroke-width="0.22">BRACKET LISPLANK</text>
<text transform="translate(311.10,555.90) scale(0.945,1)" font-size="9.9" fill="#1c1c1c" stroke="#1c1c1c" stroke-width="0.22">KLOS LISPLANK</text>
<text transform="translate(311.10,587.20) scale(0.945,1)" font-size="9.9" fill="#1c1c1c" stroke="#1c1c1c" stroke-width="0.22">LISPLANK TYPE 2</text>
<text transform="translate(473.50,336.30) scale(0.945,1)" font-size="9.9" fill="#1c1c1c" stroke="#1c1c1c" stroke-width="0.22">RENG</text>
<text transform="translate(503.60,365.70) scale(0.945,1)" font-size="9.9" fill="#1c1c1c" stroke="#1c1c1c" stroke-width="0.22">GENTENG</text>
<text transform="translate(550.50,385.80) scale(0.945,1)" font-size="9.9" fill="#1c1c1c" stroke="#1c1c1c" stroke-width="0.22">TALANG</text>
<text transform="translate(584.40,404.10) scale(0.945,1)" font-size="9.9" fill="#1c1c1c" stroke="#1c1c1c" stroke-width="0.22">UT-85</text>
<text transform="translate(636.70,516.80) scale(0.945,1)" font-size="9.9" fill="#1c1c1c" stroke="#1c1c1c" stroke-width="0.22">PANELLUX 85C/R</text>
<text transform="translate(561.20,537.00) scale(0.945,1)" font-size="9.9" fill="#1c1c1c" stroke="#1c1c1c" stroke-width="0.22">STRINGER</text>
<text transform="translate(771.00,508.00) scale(1.08,1)" font-size="8.5" fill="#1c1c1c" stroke="#1c1c1c" stroke-width="0.22">SHADOW</text>
<text transform="translate(771.00,518.10) scale(1.08,1)" font-size="8.5" fill="#1c1c1c" stroke="#1c1c1c" stroke-width="0.22">MOULDING</text>
<text transform="translate(780.40,401.10) scale(1.08,1)" font-size="8.5" fill="#1c1c1c" stroke="#1c1c1c" stroke-width="0.22">LISPLANK</text>
<text transform="translate(780.40,411.70) scale(1.08,1)" font-size="8.5" fill="#1c1c1c" stroke="#1c1c1c" stroke-width="0.22">TYPE2atau3</text>
<text transform="translate(786.10,75.20) scale(1.08,1)" font-size="8.5" fill="#1c1c1c" stroke="#1c1c1c" stroke-width="0.22">LISPLANK</text>
<text transform="translate(786.10,85.70) scale(1.08,1)" font-size="8.5" fill="#1c1c1c" stroke="#1c1c1c" stroke-width="0.22">TYPE1</text>
</g>
</svg>
</body></html>
